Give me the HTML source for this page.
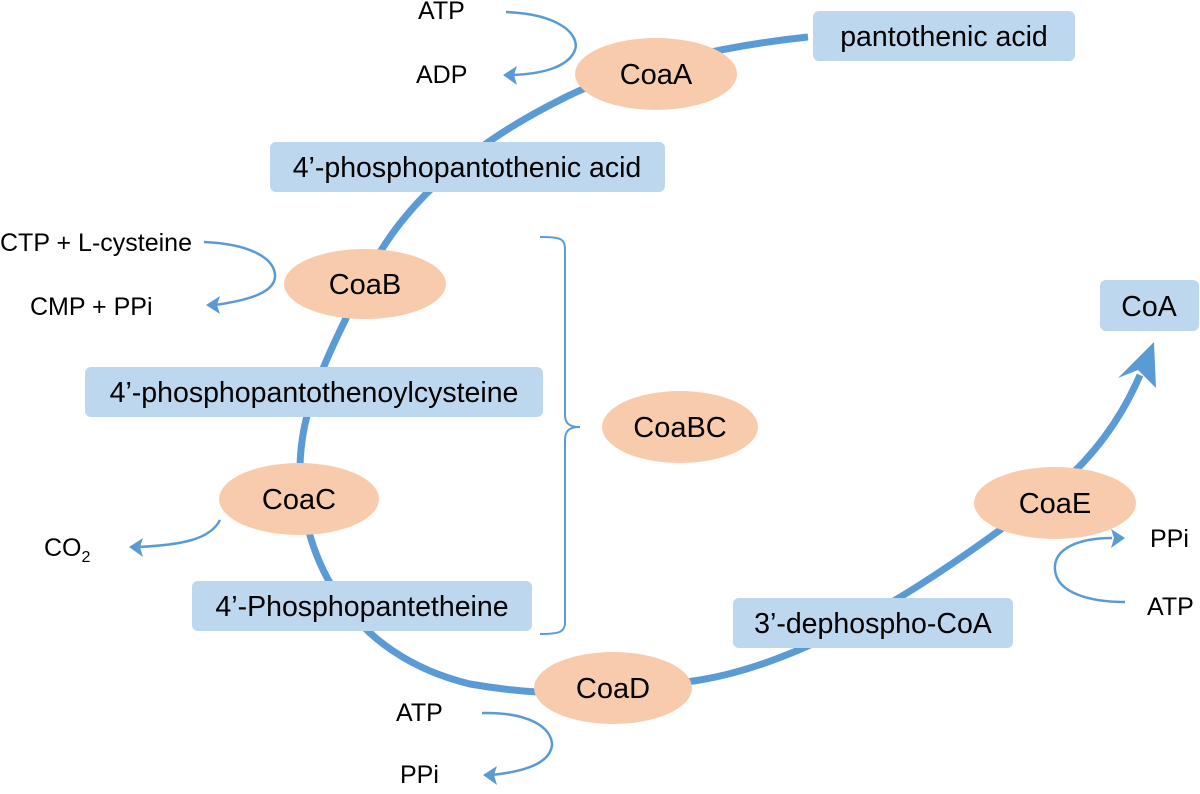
<!DOCTYPE html>
<html><head><meta charset="utf-8"><style>
html,body{margin:0;padding:0;background:#fff}
svg text{font-family:"Liberation Sans",Arial,sans-serif;fill:#000}
</style></head><body>
<svg width="1200" height="789" viewBox="0 0 1200 789" xmlns="http://www.w3.org/2000/svg">
<g fill="none" stroke="#5b9bd5" stroke-width="7" stroke-linecap="butt">
<path d="M808,37 C730,45 620,68 560,100 C470,145 400,205 365,280 C325,360 300,410 300,470 C302,560 350,655 470,684 C560,700 620,692 700,680 C820,660 950,570 1060,485 C1100,450 1125,410 1140,375"/>
</g>
<polygon points="1154,342 1118,378 1138,370 1156,388" fill="#5b9bd5"/>
<g fill="none" stroke="#5b9bd5" stroke-width="2.5">
<path d="M506,12 C560,14 580,35 575,50 C568,68 540,74 512,75"/>
<path d="M204,242 C250,244 274,258 275,275 C276,292 250,300 215,305"/>
<path d="M220,520 C210,540 180,545 138,547"/>
<path d="M482,713 C530,712 552,728 552,745 C550,765 520,772 492,775"/>
<path d="M1125,602 C1090,602 1057,593 1055,570 C1053,548 1080,538 1112,538"/>
</g>
<g fill="#5b9bd5">
<polygon points="503,75 517,66 514,75 517,85"/>
<polygon points="206,305 220,296 217,305 220,314"/>
<polygon points="129,547 143,538 140,547 143,557"/>
<polygon points="483,775 497,766 494,775 497,785"/>
<polygon points="1125,538 1111,529 1114,538 1111,548"/>
</g>
<path d="M540,237 C560,237 565,238 565,250 L565,415 C565,424 570,427 580,427 C570,427 565,430 565,440 L565,622 C565,632 560,634 540,634" fill="none" stroke="#5b9bd5" stroke-width="2"/>
<g fill="#bdd7ee">
<rect x="813" y="11" width="262" height="50" rx="6"/>
<rect x="270" y="142" width="395" height="50" rx="6"/>
<rect x="85" y="367" width="458" height="50" rx="6"/>
<rect x="192" y="581" width="340" height="50" rx="6"/>
<rect x="733" y="598" width="280" height="50" rx="6"/>
<rect x="1100" y="280" width="99" height="51" rx="6"/>
</g>
<g fill="#f8cbad">
<ellipse cx="656" cy="74" rx="81" ry="36"/>
<ellipse cx="365" cy="284" rx="81" ry="35"/>
<ellipse cx="680" cy="427" rx="78" ry="36"/>
<ellipse cx="299" cy="499" rx="80" ry="36"/>
<ellipse cx="613" cy="688" rx="79" ry="36"/>
<ellipse cx="1055" cy="503" rx="81" ry="36"/>
</g>
<g font-size="28.5" text-anchor="middle">
<text x="944" y="46">pantothenic acid</text>
<text x="467" y="177">4’-phosphopantothenic acid</text>
<text x="314" y="402">4’-phosphopantothenoylcysteine</text>
<text x="362" y="616">4’-Phosphopantetheine</text>
<text x="873" y="633">3’-dephospho-CoA</text>
<text x="1149" y="316">CoA</text>
</g>
<g font-size="29" text-anchor="middle">
<text x="656" y="84">CoaA</text>
<text x="365" y="294">CoaB</text>
<text x="680" y="437">CoaBC</text>
<text x="299" y="509">CoaC</text>
<text x="613" y="698">CoaD</text>
<text x="1055" y="513">CoaE</text>
</g>
<g font-size="25">
<text x="418" y="19">ATP</text>
<text x="416" y="83">ADP</text>
<text x="0" y="251">CTP + L-cysteine</text>
<text x="30" y="315">CMP + PPi</text>
<text x="44" y="556">CO<tspan font-size="16" dy="6">2</tspan></text>
<text x="1150" y="547">PPi</text>
<text x="1147" y="615">ATP</text>
<text x="396" y="721">ATP</text>
<text x="400" y="783">PPi</text>
</g>
</svg>
</body></html>
